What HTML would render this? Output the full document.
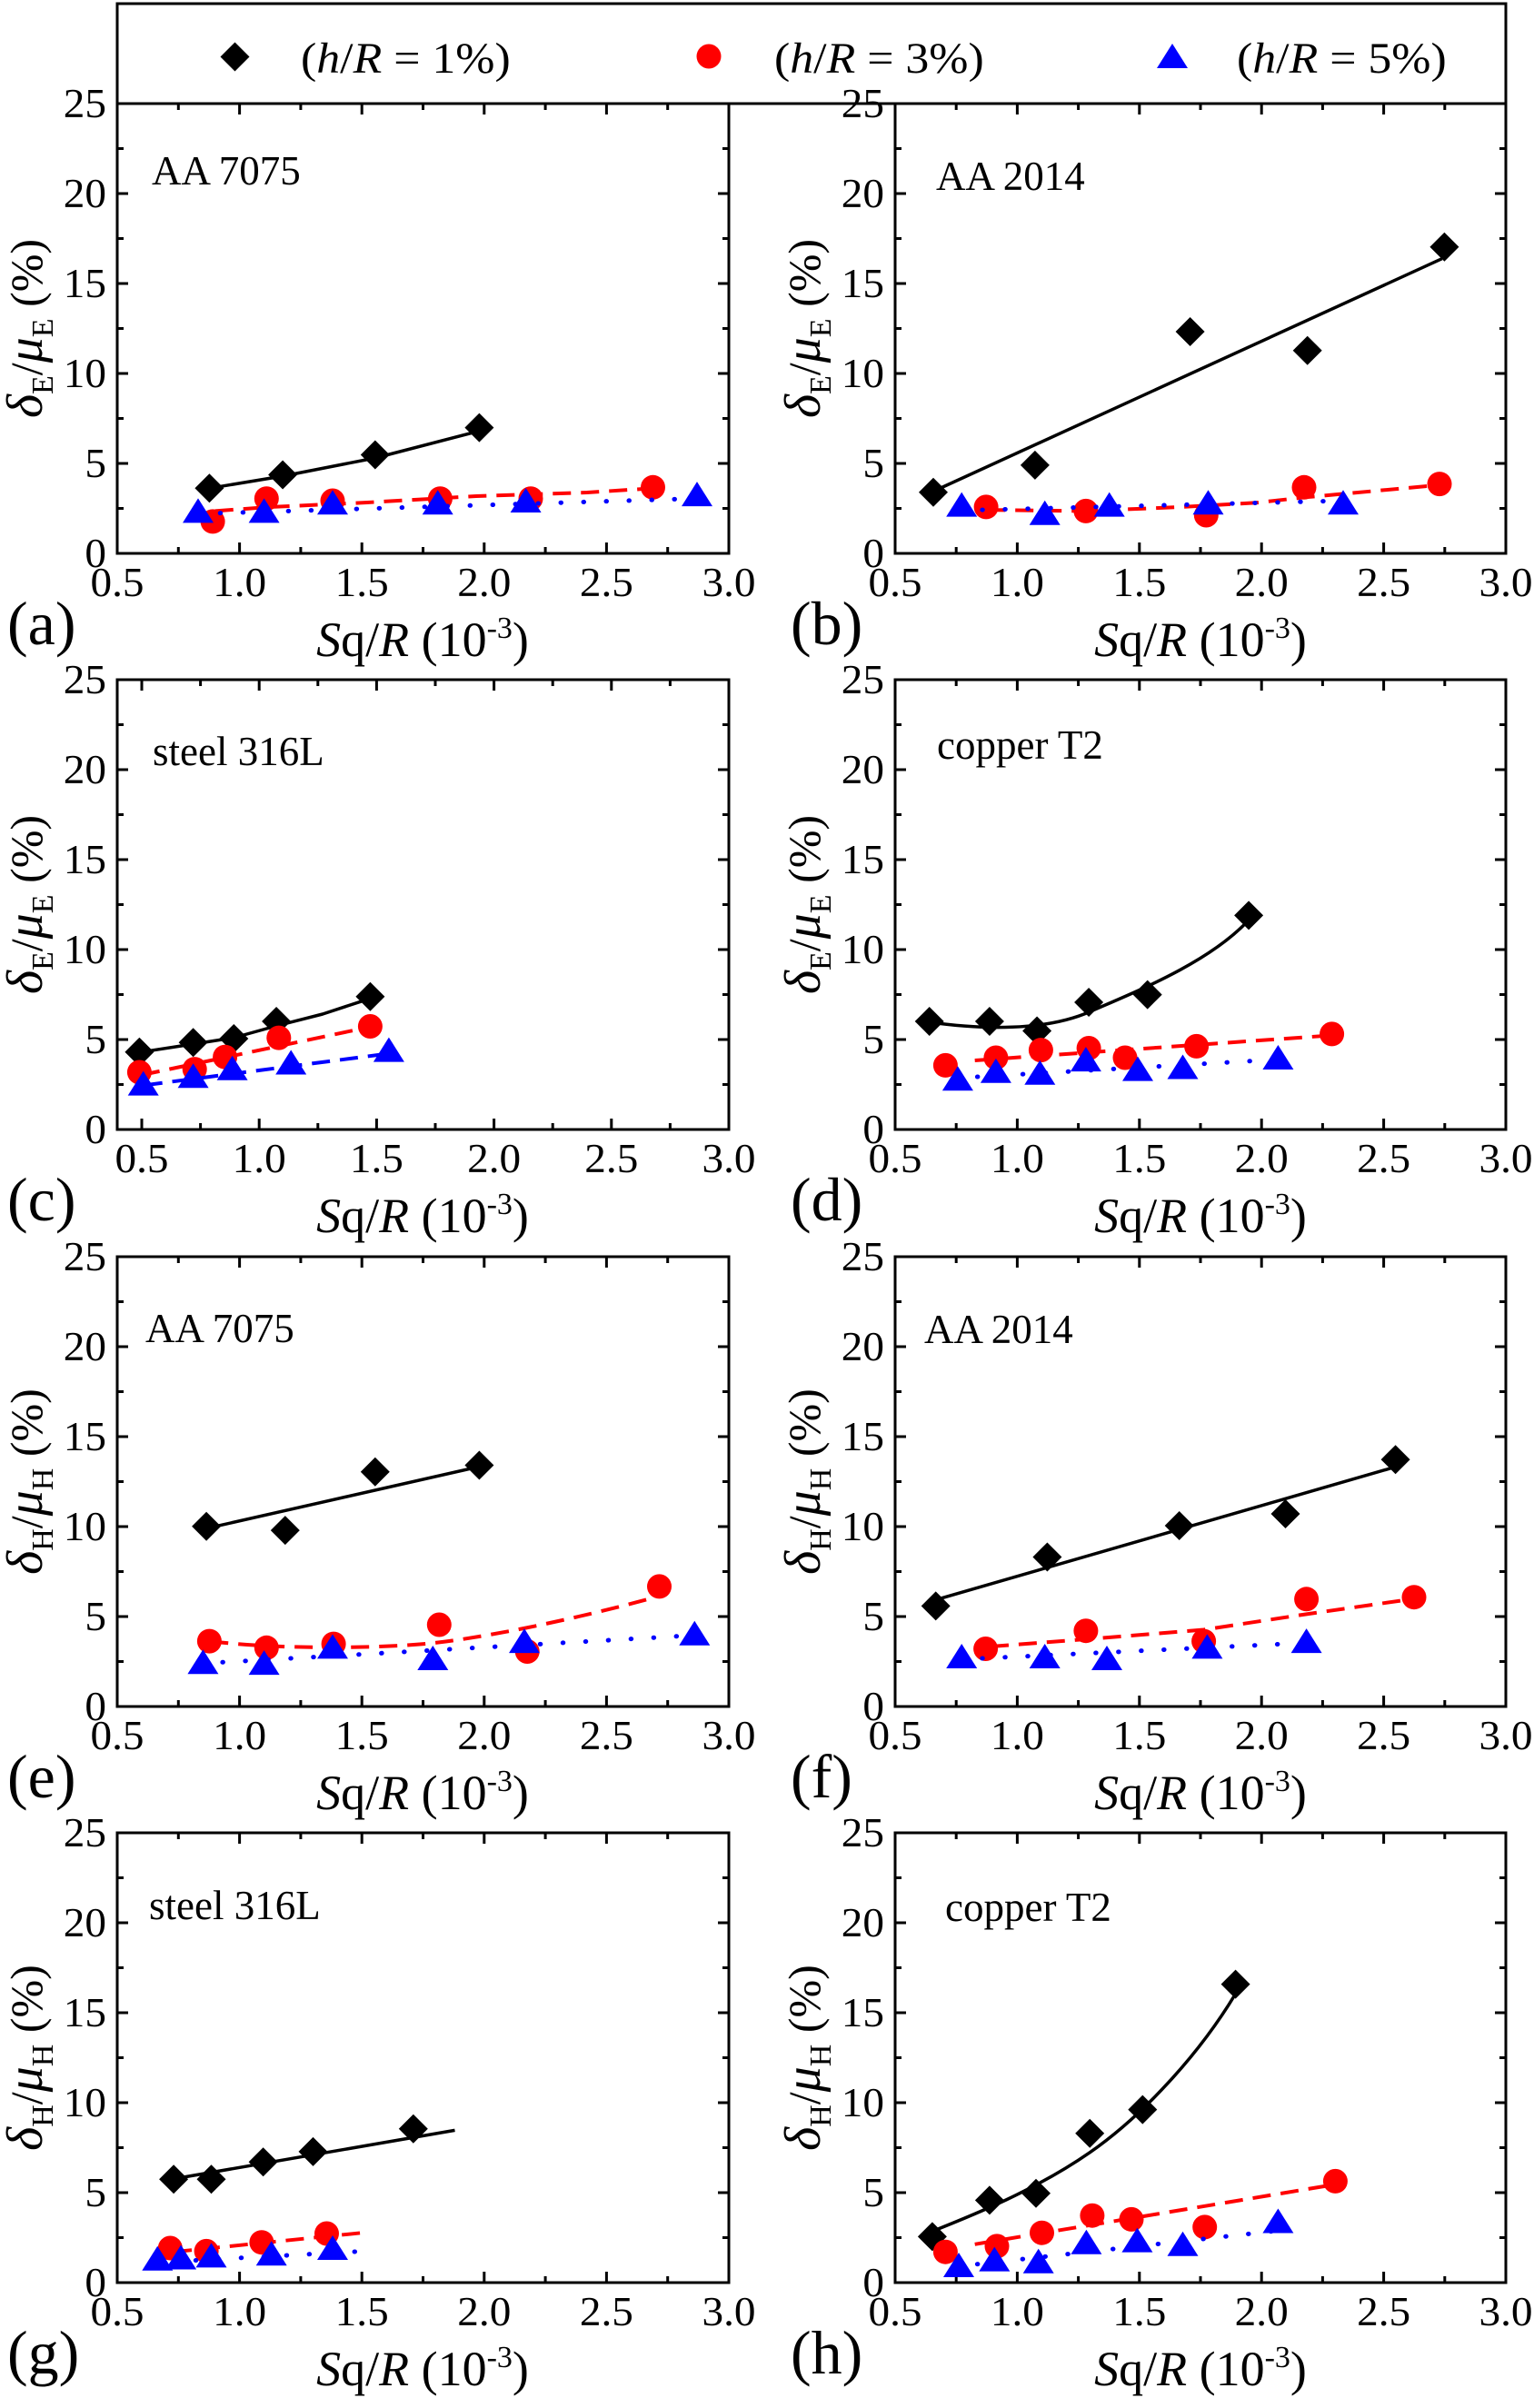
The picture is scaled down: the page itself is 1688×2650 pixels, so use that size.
<!DOCTYPE html>
<html><head><meta charset="utf-8"><style>
html,body{margin:0;padding:0;background:#fff}
svg{display:block}
text{font-family:"Liberation Serif","Times New Roman",serif;fill:#000}
</style></head><body>
<svg xmlns="http://www.w3.org/2000/svg" width="1688" height="2650" viewBox="0 0 1688 2650">
<rect width="1688" height="2650" fill="#fff"/>
<defs>
<polygon id="d" points="0,-16 16,0 0,16 -16,0" fill="#000"/>
<circle id="c" r="13.5" fill="#ff0000"/>
<polygon id="t" points="0,-14 17,13 -17,13" fill="#0000ff"/>
<g id="fL" fill="none" stroke="#000" stroke-width="3">
<rect x="129" y="114" width="673" height="495"/>
<path d="M263.6 609v-12M398.2 609v-12M532.8 609v-12M667.4 609v-12M263.6 114v12M398.2 114v12M532.8 114v12M667.4 114v12M196.3 609v-7M330.9 609v-7M465.5 609v-7M600.1 609v-7M734.7 609v-7M196.3 114v7M330.9 114v7M465.5 114v7M600.1 114v7M734.7 114v7M129 510h12M129 411h12M129 312h12M129 213h12M802 510h-12M802 411h-12M802 312h-12M802 213h-12M129 559.5h7M129 460.5h7M129 361.5h7M129 262.5h7M129 163.5h7M802 559.5h-7M802 460.5h-7M802 361.5h-7M802 262.5h-7M802 163.5h-7"/>
</g>
<g id="fC" fill="none" stroke="#000" stroke-width="3">
<rect x="129" y="114" width="673" height="495"/>
<path d="M156 609v-12M285.2 609v-12M414.4 609v-12M543.6 609v-12M672.8 609v-12M156 114v12M285.2 114v12M414.4 114v12M543.6 114v12M672.8 114v12M220.6 609v-7M349.8 609v-7M479 609v-7M608.2 609v-7M737.4 609v-7M220.6 114v7M349.8 114v7M479 114v7M608.2 114v7M737.4 114v7M129 510h12M129 411h12M129 312h12M129 213h12M802 510h-12M802 411h-12M802 312h-12M802 213h-12M129 559.5h7M129 460.5h7M129 361.5h7M129 262.5h7M129 163.5h7M802 559.5h-7M802 460.5h-7M802 361.5h-7M802 262.5h-7M802 163.5h-7"/>
</g>
<g id="fR" fill="none" stroke="#000" stroke-width="3">
<rect x="985" y="114" width="672" height="495"/>
<path d="M1119.4 609v-12M1253.8 609v-12M1388.2 609v-12M1522.6 609v-12M1119.4 114v12M1253.8 114v12M1388.2 114v12M1522.6 114v12M1052.2 609v-7M1186.6 609v-7M1321 609v-7M1455.4 609v-7M1589.8 609v-7M1052.2 114v7M1186.6 114v7M1321 114v7M1455.4 114v7M1589.8 114v7M985 510h12M985 411h12M985 312h12M985 213h12M1657 510h-12M1657 411h-12M1657 312h-12M1657 213h-12M985 559.5h7M985 460.5h7M985 361.5h7M985 262.5h7M985 163.5h7M1657 559.5h-7M1657 460.5h-7M1657 361.5h-7M1657 262.5h-7M1657 163.5h-7"/>
</g>
</defs>

<!-- legend -->
<rect x="129" y="4" width="1528" height="110" fill="none" stroke="#000" stroke-width="3"/>
<use href="#d" x="258.5" y="62.5"/>
<text transform="translate(331,80) scale(1.08,1)" font-size="48">(<tspan font-style="italic">h</tspan>/<tspan font-style="italic">R</tspan> = 1%)</text>
<use href="#c" x="780" y="62"/>
<text transform="translate(852,80) scale(1.08,1)" font-size="48">(<tspan font-style="italic">h</tspan>/<tspan font-style="italic">R</tspan> = 3%)</text>
<use href="#t" x="1290" y="62"/>
<text transform="translate(1361,80) scale(1.08,1)" font-size="48">(<tspan font-style="italic">h</tspan>/<tspan font-style="italic">R</tspan> = 5%)</text>

<!-- frames -->
<use href="#fL"/>
<use href="#fR"/>
<use href="#fC" transform="translate(0,634)"/>
<use href="#fR" transform="translate(0,634)"/>
<use href="#fL" transform="translate(0,1269)"/>
<use href="#fR" transform="translate(0,1269)"/>
<use href="#fL" transform="translate(0,1903)"/>
<use href="#fR" transform="translate(0,1903)"/>

<!-- ROW 1 -->
<g>
<g font-size="45" text-anchor="end">
<text transform="translate(117,624) scale(1.05,1)">0</text><text transform="translate(117,525) scale(1.05,1)">5</text><text transform="translate(117,426) scale(1.05,1)">10</text><text transform="translate(117,327) scale(1.05,1)">15</text><text transform="translate(117,228) scale(1.05,1)">20</text><text transform="translate(117,129) scale(1.05,1)">25</text>
<text transform="translate(973,624) scale(1.05,1)">0</text><text transform="translate(973,525) scale(1.05,1)">5</text><text transform="translate(973,426) scale(1.05,1)">10</text><text transform="translate(973,327) scale(1.05,1)">15</text><text transform="translate(973,228) scale(1.05,1)">20</text><text transform="translate(973,129) scale(1.05,1)">25</text>
</g>
<g font-size="45" text-anchor="middle">
<text transform="translate(129,656) scale(1.05,1)">0.5</text><text transform="translate(263.6,656) scale(1.05,1)">1.0</text><text transform="translate(398.2,656) scale(1.05,1)">1.5</text><text transform="translate(532.8,656) scale(1.05,1)">2.0</text><text transform="translate(667.4,656) scale(1.05,1)">2.5</text><text transform="translate(802,656) scale(1.05,1)">3.0</text>
<text transform="translate(985,656) scale(1.05,1)">0.5</text><text transform="translate(1119.4,656) scale(1.05,1)">1.0</text><text transform="translate(1253.8,656) scale(1.05,1)">1.5</text><text transform="translate(1388.2,656) scale(1.05,1)">2.0</text><text transform="translate(1522.6,656) scale(1.05,1)">2.5</text><text transform="translate(1657,656) scale(1.05,1)">3.0</text>
</g>
<text x="465" y="722" text-anchor="middle" font-size="54"><tspan font-style="italic">S</tspan>q/<tspan font-style="italic">R</tspan> (10<tspan font-size="34" dy="-20">-3</tspan><tspan dy="20">)</tspan></text>
<text x="1321" y="722" text-anchor="middle" font-size="54"><tspan font-style="italic">S</tspan>q/<tspan font-style="italic">R</tspan> (10<tspan font-size="34" dy="-20">-3</tspan><tspan dy="20">)</tspan></text>
<text x="8" y="709" font-size="68">(a)</text>
<text x="870" y="709" font-size="68">(b)</text>
<text transform="translate(46,361.5) rotate(-90)" text-anchor="middle" font-size="50"><tspan font-style="italic" font-size="56">δ</tspan><tspan font-size="34" dy="12">E</tspan><tspan dy="-12">/</tspan><tspan font-style="italic" font-size="56">μ</tspan><tspan font-size="34" dy="12">E</tspan><tspan dy="-12"> (%)</tspan></text>
<text transform="translate(902,361.5) rotate(-90)" text-anchor="middle" font-size="50"><tspan font-style="italic" font-size="56">δ</tspan><tspan font-size="34" dy="12">E</tspan><tspan dy="-12">/</tspan><tspan font-style="italic" font-size="56">μ</tspan><tspan font-size="34" dy="12">E</tspan><tspan dy="-12"> (%)</tspan></text>
<text x="167" y="203" font-size="45">AA 7075</text>
<text x="1030" y="209" font-size="45">AA 2014</text>
</g>

<!-- ROW 2 -->
<g transform="translate(0,634)">
<g font-size="45" text-anchor="end">
<text transform="translate(117,624) scale(1.05,1)">0</text><text transform="translate(117,525) scale(1.05,1)">5</text><text transform="translate(117,426) scale(1.05,1)">10</text><text transform="translate(117,327) scale(1.05,1)">15</text><text transform="translate(117,228) scale(1.05,1)">20</text><text transform="translate(117,129) scale(1.05,1)">25</text>
<text transform="translate(973,624) scale(1.05,1)">0</text><text transform="translate(973,525) scale(1.05,1)">5</text><text transform="translate(973,426) scale(1.05,1)">10</text><text transform="translate(973,327) scale(1.05,1)">15</text><text transform="translate(973,228) scale(1.05,1)">20</text><text transform="translate(973,129) scale(1.05,1)">25</text>
</g>
<g font-size="45" text-anchor="middle">
<text transform="translate(156,656) scale(1.05,1)">0.5</text><text transform="translate(285.2,656) scale(1.05,1)">1.0</text><text transform="translate(414.4,656) scale(1.05,1)">1.5</text><text transform="translate(543.6,656) scale(1.05,1)">2.0</text><text transform="translate(672.8,656) scale(1.05,1)">2.5</text><text transform="translate(802,656) scale(1.05,1)">3.0</text>
<text transform="translate(985,656) scale(1.05,1)">0.5</text><text transform="translate(1119.4,656) scale(1.05,1)">1.0</text><text transform="translate(1253.8,656) scale(1.05,1)">1.5</text><text transform="translate(1388.2,656) scale(1.05,1)">2.0</text><text transform="translate(1522.6,656) scale(1.05,1)">2.5</text><text transform="translate(1657,656) scale(1.05,1)">3.0</text>
</g>
<text x="465" y="722" text-anchor="middle" font-size="54"><tspan font-style="italic">S</tspan>q/<tspan font-style="italic">R</tspan> (10<tspan font-size="34" dy="-20">-3</tspan><tspan dy="20">)</tspan></text>
<text x="1321" y="722" text-anchor="middle" font-size="54"><tspan font-style="italic">S</tspan>q/<tspan font-style="italic">R</tspan> (10<tspan font-size="34" dy="-20">-3</tspan><tspan dy="20">)</tspan></text>
<text x="8" y="709" font-size="68">(c)</text>
<text x="870" y="709" font-size="68">(d)</text>
<text transform="translate(46,361.5) rotate(-90)" text-anchor="middle" font-size="50"><tspan font-style="italic" font-size="56">δ</tspan><tspan font-size="34" dy="12">E</tspan><tspan dy="-12">/</tspan><tspan font-style="italic" font-size="56">μ</tspan><tspan font-size="34" dy="12">E</tspan><tspan dy="-12"> (%)</tspan></text>
<text transform="translate(902,361.5) rotate(-90)" text-anchor="middle" font-size="50"><tspan font-style="italic" font-size="56">δ</tspan><tspan font-size="34" dy="12">E</tspan><tspan dy="-12">/</tspan><tspan font-style="italic" font-size="56">μ</tspan><tspan font-size="34" dy="12">E</tspan><tspan dy="-12"> (%)</tspan></text>
<text x="168" y="208" font-size="45">steel 316L</text>
<text x="1031" y="201" font-size="45">copper T2</text>
</g>

<!-- ROW 3 -->
<g transform="translate(0,1269)">
<g font-size="45" text-anchor="end">
<text transform="translate(117,624) scale(1.05,1)">0</text><text transform="translate(117,525) scale(1.05,1)">5</text><text transform="translate(117,426) scale(1.05,1)">10</text><text transform="translate(117,327) scale(1.05,1)">15</text><text transform="translate(117,228) scale(1.05,1)">20</text><text transform="translate(117,129) scale(1.05,1)">25</text>
<text transform="translate(973,624) scale(1.05,1)">0</text><text transform="translate(973,525) scale(1.05,1)">5</text><text transform="translate(973,426) scale(1.05,1)">10</text><text transform="translate(973,327) scale(1.05,1)">15</text><text transform="translate(973,228) scale(1.05,1)">20</text><text transform="translate(973,129) scale(1.05,1)">25</text>
</g>
<g font-size="45" text-anchor="middle">
<text transform="translate(129,656) scale(1.05,1)">0.5</text><text transform="translate(263.6,656) scale(1.05,1)">1.0</text><text transform="translate(398.2,656) scale(1.05,1)">1.5</text><text transform="translate(532.8,656) scale(1.05,1)">2.0</text><text transform="translate(667.4,656) scale(1.05,1)">2.5</text><text transform="translate(802,656) scale(1.05,1)">3.0</text>
<text transform="translate(985,656) scale(1.05,1)">0.5</text><text transform="translate(1119.4,656) scale(1.05,1)">1.0</text><text transform="translate(1253.8,656) scale(1.05,1)">1.5</text><text transform="translate(1388.2,656) scale(1.05,1)">2.0</text><text transform="translate(1522.6,656) scale(1.05,1)">2.5</text><text transform="translate(1657,656) scale(1.05,1)">3.0</text>
</g>
<text x="465" y="722" text-anchor="middle" font-size="54"><tspan font-style="italic">S</tspan>q/<tspan font-style="italic">R</tspan> (10<tspan font-size="34" dy="-20">-3</tspan><tspan dy="20">)</tspan></text>
<text x="1321" y="722" text-anchor="middle" font-size="54"><tspan font-style="italic">S</tspan>q/<tspan font-style="italic">R</tspan> (10<tspan font-size="34" dy="-20">-3</tspan><tspan dy="20">)</tspan></text>
<text x="8" y="709" font-size="68">(e)</text>
<text x="870" y="709" font-size="68">(f)</text>
<text transform="translate(46,361.5) rotate(-90)" text-anchor="middle" font-size="50"><tspan font-style="italic" font-size="56">δ</tspan><tspan font-size="34" dy="12">H</tspan><tspan dy="-12">/</tspan><tspan font-style="italic" font-size="56">μ</tspan><tspan font-size="34" dy="12">H</tspan><tspan dy="-12"> (%)</tspan></text>
<text transform="translate(902,361.5) rotate(-90)" text-anchor="middle" font-size="50"><tspan font-style="italic" font-size="56">δ</tspan><tspan font-size="34" dy="12">H</tspan><tspan dy="-12">/</tspan><tspan font-style="italic" font-size="56">μ</tspan><tspan font-size="34" dy="12">H</tspan><tspan dy="-12"> (%)</tspan></text>
<text x="160" y="208" font-size="45">AA 7075</text>
<text x="1017" y="209" font-size="45">AA 2014</text>
</g>

<!-- ROW 4 -->
<g transform="translate(0,1903)">
<g font-size="45" text-anchor="end">
<text transform="translate(117,624) scale(1.05,1)">0</text><text transform="translate(117,525) scale(1.05,1)">5</text><text transform="translate(117,426) scale(1.05,1)">10</text><text transform="translate(117,327) scale(1.05,1)">15</text><text transform="translate(117,228) scale(1.05,1)">20</text><text transform="translate(117,129) scale(1.05,1)">25</text>
<text transform="translate(973,624) scale(1.05,1)">0</text><text transform="translate(973,525) scale(1.05,1)">5</text><text transform="translate(973,426) scale(1.05,1)">10</text><text transform="translate(973,327) scale(1.05,1)">15</text><text transform="translate(973,228) scale(1.05,1)">20</text><text transform="translate(973,129) scale(1.05,1)">25</text>
</g>
<g font-size="45" text-anchor="middle">
<text transform="translate(129,656) scale(1.05,1)">0.5</text><text transform="translate(263.6,656) scale(1.05,1)">1.0</text><text transform="translate(398.2,656) scale(1.05,1)">1.5</text><text transform="translate(532.8,656) scale(1.05,1)">2.0</text><text transform="translate(667.4,656) scale(1.05,1)">2.5</text><text transform="translate(802,656) scale(1.05,1)">3.0</text>
<text transform="translate(985,656) scale(1.05,1)">0.5</text><text transform="translate(1119.4,656) scale(1.05,1)">1.0</text><text transform="translate(1253.8,656) scale(1.05,1)">1.5</text><text transform="translate(1388.2,656) scale(1.05,1)">2.0</text><text transform="translate(1522.6,656) scale(1.05,1)">2.5</text><text transform="translate(1657,656) scale(1.05,1)">3.0</text>
</g>
<text x="465" y="722" text-anchor="middle" font-size="54"><tspan font-style="italic">S</tspan>q/<tspan font-style="italic">R</tspan> (10<tspan font-size="34" dy="-20">-3</tspan><tspan dy="20">)</tspan></text>
<text x="1321" y="722" text-anchor="middle" font-size="54"><tspan font-style="italic">S</tspan>q/<tspan font-style="italic">R</tspan> (10<tspan font-size="34" dy="-20">-3</tspan><tspan dy="20">)</tspan></text>
<text x="8" y="709" font-size="68">(g)</text>
<text x="870" y="709" font-size="68">(h)</text>
<text transform="translate(46,361.5) rotate(-90)" text-anchor="middle" font-size="50"><tspan font-style="italic" font-size="56">δ</tspan><tspan font-size="34" dy="12">H</tspan><tspan dy="-12">/</tspan><tspan font-style="italic" font-size="56">μ</tspan><tspan font-size="34" dy="12">H</tspan><tspan dy="-12"> (%)</tspan></text>
<text transform="translate(902,361.5) rotate(-90)" text-anchor="middle" font-size="50"><tspan font-style="italic" font-size="56">δ</tspan><tspan font-size="34" dy="12">H</tspan><tspan dy="-12">/</tspan><tspan font-style="italic" font-size="56">μ</tspan><tspan font-size="34" dy="12">H</tspan><tspan dy="-12"> (%)</tspan></text>
<text x="164" y="209" font-size="45">steel 316L</text>
<text x="1040" y="211" font-size="45">copper T2</text>
</g>

<!-- DATA -->
<g fill="none" stroke="#000" stroke-width="3.5" stroke-linejoin="round">
<polyline points="236.8,536.3 311,524 413,504 532.8,472.9"/>
<polyline points="1029.7,539.5 1586.7,284.7"/>
<polyline points="156,1157.7 212.6,1149 257.3,1142 304.1,1129 355,1116 407.4,1098.8"/>
<path d="M1022.7,1124.9 C1080,1133 1150,1135 1199,1113.5 S1330,1060 1374.1,1012.5"/>
<polyline points="231.4,1681.1 524.8,1614.6"/>
<polyline points="1032.4,1759.8 1534.5,1614.6"/>
<polyline points="193.8,2397.4 500.5,2344.4"/>
<path d="M1027,2455.1 C1070,2438 1140,2410 1199.2,2368.8 S1320,2260 1359.6,2194.1"/>
</g>
<g>
<use href="#d" x="230.4" y="537.2"/><use href="#d" x="311.1" y="522.5"/><use href="#d" x="412.8" y="500.5"/><use href="#d" x="527.4" y="470.6"/>
<use href="#d" x="1027" y="541.8"/><use href="#d" x="1138.9" y="511.9"/><use href="#d" x="1309.6" y="365"/><use href="#d" x="1438.7" y="385.7"/><use href="#d" x="1589.4" y="271.8"/>
<use href="#d" x="153.4" y="1157.7"/><use href="#d" x="212.6" y="1147.2"/><use href="#d" x="257.3" y="1143"/><use href="#d" x="304.1" y="1124"/><use href="#d" x="407.4" y="1096.7"/>
<use href="#d" x="1022.7" y="1124"/><use href="#d" x="1088.9" y="1124"/><use href="#d" x="1141.1" y="1134.5"/><use href="#d" x="1198.1" y="1103"/><use href="#d" x="1262.7" y="1094.6"/><use href="#d" x="1374.1" y="1007.4"/>
<use href="#d" x="227.1" y="1679.8"/><use href="#d" x="313.8" y="1684.1"/><use href="#d" x="412.8" y="1619.7"/><use href="#d" x="527.4" y="1612.5"/>
<use href="#d" x="1029.7" y="1767.4"/><use href="#d" x="1152.4" y="1713.5"/><use href="#d" x="1297.7" y="1679"/><use href="#d" x="1414.5" y="1666"/><use href="#d" x="1535.6" y="1606.2"/>
<use href="#d" x="191.1" y="2398.2"/><use href="#d" x="232.5" y="2398.2"/><use href="#d" x="289.6" y="2379.3"/><use href="#d" x="344.5" y="2367.9"/><use href="#d" x="454.8" y="2342.7"/>
<use href="#d" x="1025.9" y="2461.4"/><use href="#d" x="1088.9" y="2421.4"/><use href="#d" x="1140" y="2413.8"/><use href="#d" x="1199.2" y="2347.7"/><use href="#d" x="1257.3" y="2321.6"/><use href="#d" x="1359.6" y="2183.6"/>
</g>

<g fill="none" stroke="#ff0000" stroke-width="4" stroke-dasharray="20 11" stroke-linejoin="round">
<polyline points="236.8,562.4 296,558 404,553 524,546 646,542 715.8,537.5"/>
<polyline points="1086.2,561.1 1193.8,562.4 1301.5,557.9 1382.2,553.3 1436,547.3 1581.3,534"/>
<polyline points="156,1183 406.3,1130.3"/>
<polyline points="1072.7,1167 1462.9,1139.6"/>
<path d="M231.4,1806.1 C300,1815 420,1815 483.3,1807.4 S640,1780 721.2,1757.7"/>
<polyline points="1090,1812 1194.9,1804 1324.6,1793.5 1436,1776.6 1553.4,1759.8"/>
<polyline points="191.1,2478.2 398.3,2457.2"/>
<polyline points="1072.7,2469.8 1465.6,2404.6"/>
</g>
<g>
<use href="#c" x="234.1" y="573.9"/><use href="#c" x="293.3" y="548.7"/><use href="#c" x="366" y="551"/><use href="#c" x="484.4" y="548.7"/><use href="#c" x="584" y="548.7"/><use href="#c" x="718.5" y="536.3"/>
<use href="#c" x="1085.1" y="557.9"/><use href="#c" x="1194.9" y="562.4"/><use href="#c" x="1327.3" y="567"/><use href="#c" x="1435" y="536.3"/><use href="#c" x="1584" y="532.6"/>
<use href="#c" x="153.4" y="1180"/><use href="#c" x="214.2" y="1176.6"/><use href="#c" x="247.6" y="1163.2"/><use href="#c" x="306.8" y="1142.1"/><use href="#c" x="407.4" y="1129.5"/>
<use href="#c" x="1040.4" y="1172.4"/><use href="#c" x="1095.9" y="1164"/><use href="#c" x="1145.4" y="1155.6"/><use href="#c" x="1198.1" y="1153.5"/><use href="#c" x="1238" y="1164"/><use href="#c" x="1316.6" y="1151.4"/><use href="#c" x="1465.6" y="1137.9"/>
<use href="#c" x="230.4" y="1806.1"/><use href="#c" x="293.3" y="1813.3"/><use href="#c" x="367.1" y="1809.1"/><use href="#c" x="483.3" y="1788"/><use href="#c" x="580.2" y="1817.5"/><use href="#c" x="725.5" y="1745.9"/>
<use href="#c" x="1084.6" y="1814.5"/><use href="#c" x="1194.9" y="1794.7"/><use href="#c" x="1324.6" y="1806.1"/><use href="#c" x="1437.6" y="1759.8"/><use href="#c" x="1556" y="1757.7"/>
<use href="#c" x="187.3" y="2474"/><use href="#c" x="227.1" y="2477.4"/><use href="#c" x="287.9" y="2467.7"/><use href="#c" x="359.5" y="2458"/>
<use href="#c" x="1040.4" y="2478.2"/><use href="#c" x="1097" y="2471.9"/><use href="#c" x="1146.5" y="2457.2"/><use href="#c" x="1201.9" y="2438.2"/><use href="#c" x="1245" y="2442.4"/><use href="#c" x="1325.7" y="2450.9"/><use href="#c" x="1469.4" y="2400.4"/>
</g>

<g fill="none" stroke="#0000ff" stroke-width="5" stroke-linecap="round" stroke-dasharray="0.5 24.5">
<polyline points="242.2,564.7 764.3,548.7"/>
<polyline points="1080.8,561.1 1479.1,551"/>
<polyline points="1075.4,1185 1403.7,1166.1"/>
<polyline points="244.9,1829.3 761.6,1799.8"/>
<polyline points="1080.8,1825 1433.3,1808.2"/>
<polyline points="215.3,2487.5 401,2477.4"/>
<polyline points="1075.4,2491.7 1403.7,2455.1"/>
</g>
<polyline fill="none" stroke="#0000ff" stroke-width="4" stroke-dasharray="20 11" points="158.8,1194.3 425.2,1159.8"/>
<g>
<use href="#t" x="218" y="562.4"/><use href="#t" x="290.6" y="562.4"/><use href="#t" x="366" y="553.3"/><use href="#t" x="481.7" y="553.3"/><use href="#t" x="578.6" y="551"/><use href="#t" x="767" y="544.1"/>
<use href="#t" x="1058.2" y="555.6"/><use href="#t" x="1149.7" y="564.7"/><use href="#t" x="1220.7" y="555.6"/><use href="#t" x="1329.5" y="553.3"/><use href="#t" x="1478" y="553.3"/>
<use href="#t" x="157.7" y="1192.6"/><use href="#t" x="212.6" y="1184.2"/><use href="#t" x="255.6" y="1175.8"/><use href="#t" x="320.2" y="1169.5"/><use href="#t" x="427.9" y="1155.6"/>
<use href="#t" x="1053.9" y="1187.2"/><use href="#t" x="1095.9" y="1178.7"/><use href="#t" x="1144.3" y="1180.8"/><use href="#t" x="1194.9" y="1166.1"/><use href="#t" x="1252" y="1176.6"/><use href="#t" x="1301.5" y="1174.5"/><use href="#t" x="1406.4" y="1164"/>
<use href="#t" x="223.4" y="1829.3"/><use href="#t" x="290.6" y="1830.1"/><use href="#t" x="366" y="1812.4"/><use href="#t" x="476.3" y="1825"/><use href="#t" x="577" y="1806.1"/><use href="#t" x="764.3" y="1797.7"/>
<use href="#t" x="1058.2" y="1823"/><use href="#t" x="1149.7" y="1823"/><use href="#t" x="1218" y="1825"/><use href="#t" x="1328.4" y="1812.4"/><use href="#t" x="1437.6" y="1806.1"/>
<use href="#t" x="173.3" y="2485.8"/><use href="#t" x="199.1" y="2484.5"/><use href="#t" x="232.5" y="2482.4"/><use href="#t" x="298.7" y="2480.3"/><use href="#t" x="366" y="2474"/>
<use href="#t" x="1055" y="2493"/><use href="#t" x="1094.3" y="2486.6"/><use href="#t" x="1142.7" y="2488.7"/><use href="#t" x="1195.4" y="2467.7"/><use href="#t" x="1251.4" y="2465.6"/><use href="#t" x="1301.5" y="2469.8"/><use href="#t" x="1406.4" y="2444.5"/>
</g>
</svg>
</body></html>
